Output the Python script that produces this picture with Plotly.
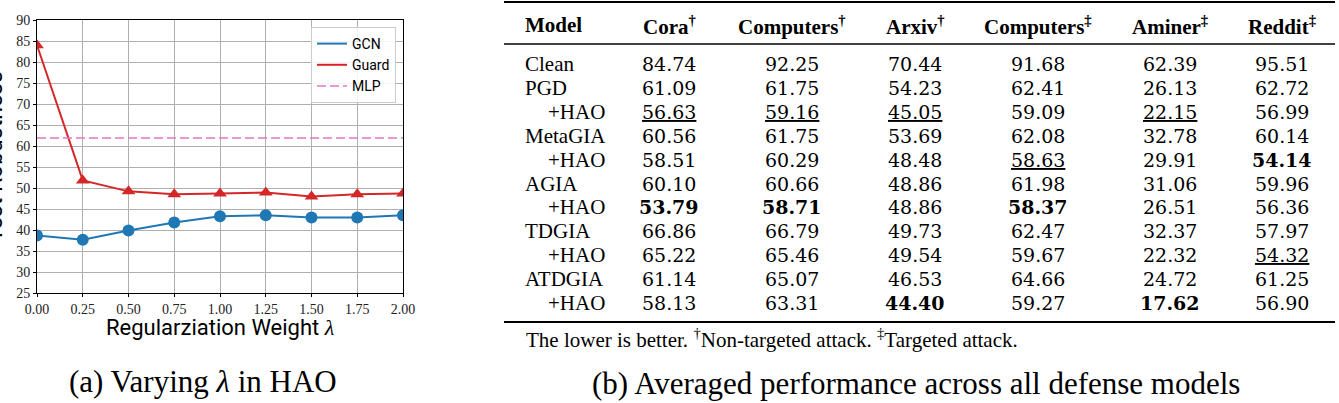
import plotly.graph_objects as go

W, H = 1339, 403

# ---------------- data: line chart ----------------
lambdas = [0.00, 0.25, 0.50, 0.75, 1.00, 1.25, 1.50, 1.75, 2.00]
gcn = [38.7, 37.7, 39.9, 41.8, 43.3, 43.5, 43.0, 43.0, 43.5]
guard = [84.0, 51.8, 49.2, 48.5, 48.7, 48.9, 48.0, 48.5, 48.7]
mlp_value = 61.9

x_ticks = [0.00, 0.25, 0.50, 0.75, 1.00, 1.25, 1.50, 1.75, 2.00]
y_ticks = list(range(25, 95, 5))

# ---------------- data: table ----------------
models = ["Clean", "PGD", "+HAO", "MetaGIA", "+HAO", "AGIA", "+HAO",
          "TDGIA", "+HAO", "ATDGIA", "+HAO"]
columns = ["Cora<sup>†</sup>", "Computers<sup>†</sup>", "Arxiv<sup>†</sup>",
           "Computers<sup>‡</sup>", "Aminer<sup>‡</sup>", "Reddit<sup>‡</sup>"]
cora = [84.74, 61.09, 56.63, 60.56, 58.51, 60.10, 53.79, 66.86, 65.22, 61.14, 58.13]
computers_nt = [92.25, 61.75, 59.16, 61.75, 60.29, 60.66, 58.71, 66.79, 65.46, 65.07, 63.31]
arxiv = [70.44, 54.23, 45.05, 53.69, 48.48, 48.86, 48.86, 49.73, 49.54, 46.53, 44.40]
computers_t = [91.68, 62.41, 59.09, 62.08, 58.63, 61.98, 58.37, 62.47, 59.67, 64.66, 59.27]
aminer = [62.39, 26.13, 22.15, 32.78, 29.91, 31.06, 26.51, 32.37, 22.32, 24.72, 17.62]
reddit = [95.51, 62.72, 56.99, 60.14, 54.14, 59.96, 56.36, 57.97, 54.32, 61.25, 56.90]
table_values = [cora, computers_nt, arxiv, computers_t, aminer, reddit]
bold_rows = [6, 6, 10, 6, 10, 4]        # best per column
underline_rows = [2, 2, 2, 4, 2, 8]     # second best per column

footnote = "The lower is better. <sup>†</sup>Non-targeted attack. <sup>‡</sup>Targeted attack."
caption_a = "(a) Varying <i>λ</i> in HAO"
caption_b = "(b) Averaged performance across all defense models"

# ---------------- layout constants (pixels) ----------------
PLOT_L, PLOT_R, PLOT_T, PLOT_B = 37, 403, 20, 293
COL_X = [669, 792, 915, 1038, 1170, 1282]
MODEL_X, INDENT_X = 523, 546
HEADER_Y = 25
ROW0_Y, ROW_DY = 64, 23.9
RULE_L, RULE_R = 504, 1335
TOP_RULE_Y, MID_RULE_Y, BOT_RULE_Y = 2, 44, 322

SERIF = "Liberation Serif"
NUMFONT = "DejaVu Serif"
SANS = "Roboto"


def px(x):
    return x / W


def py(y):
    return 1 - y / H


def note(x, y, text, size, family=SERIF, xanchor="center", **kw):
    d = dict(xref="paper", yref="paper", x=px(x), y=py(y), text=text, xanchor=xanchor,
             yanchor="middle", showarrow=False, font=dict(family=family, size=size, color="black"))
    d.update(kw)
    return d


fig = go.Figure()
fig.add_trace(go.Scatter(x=lambdas, y=gcn, name="GCN", mode="lines+markers", showlegend=False,
                         line=dict(color="#1f77b4", width=2),
                         marker=dict(symbol="circle", size=12, color="#1f77b4")))
fig.add_trace(go.Scatter(x=lambdas, y=guard, name="Guard", mode="lines+markers", showlegend=False,
                         line=dict(color="#d62728", width=2),
                         marker=dict(symbol="triangle-up", size=12, color="#d62728")))
fig.add_trace(go.Scatter(x=[x_ticks[0], x_ticks[-1]], y=[mlp_value, mlp_value], name="MLP",
                         mode="lines", showlegend=False,
                         line=dict(color="#e377c2", width=1.6, dash="9px,4px")))
# legend entries (lines only, like the reference)
for name, color, dash in [("GCN", "#1f77b4", "solid"), ("Guard", "#d62728", "solid"),
                          ("MLP", "#e377c2", "9px,4px")]:
    fig.add_trace(go.Scatter(x=[None], y=[None], name=name, mode="lines",
                             line=dict(color=color, width=2 if dash == "solid" else 1.6, dash=dash)))

annotations = []
shapes = []

# table header
annotations.append(note(MODEL_X, HEADER_Y, "<b>Model</b>", 21, xanchor="left"))
for cx, name in zip(COL_X, columns):
    annotations.append(note(cx, HEADER_Y, "<b>" + name + "</b>", 21))

# table body
for i, m in enumerate(models):
    ry = ROW0_Y + ROW_DY * i
    mx = INDENT_X if m.startswith("+") else MODEL_X
    annotations.append(note(mx, ry, m, 21, xanchor="left"))
    for j, col in enumerate(table_values):
        t = f"{col[i]:.2f}"
        if bold_rows[j] == i:
            t = "<b>" + t + "</b>"
        if underline_rows[j] == i:
            t = "<u>" + t + "</u>"
        annotations.append(note(COL_X[j], ry, t, 19, family=NUMFONT))

# rules
for yy, w in [(TOP_RULE_Y, 2.2), (MID_RULE_Y, 1.3), (BOT_RULE_Y, 2.2)]:
    shapes.append(dict(type="line", xref="paper", yref="paper", x0=px(RULE_L), x1=px(RULE_R),
                       y0=py(yy), y1=py(yy), line=dict(color="black", width=w)))

# footnote and captions
annotations.append(note(524, 338, footnote, 21, xanchor="left"))
annotations.append(note(203, 381, caption_a, 31))
annotations.append(note(916, 383, caption_b, 31))

# axis titles
annotations.append(note(220, 327, "Regularziation Weight <i><span style='font-family:Liberation Serif'>λ</span></i>",
                        22, family=SANS))
annotations.append(note(10, (PLOT_T + PLOT_B) / 2, "Test Robustness", 23, family=SANS,
                        xanchor="right", textangle=-90))

axis_common = dict(showgrid=True, gridcolor="#b0b0b0", gridwidth=1,
                   showline=True, linecolor="black", linewidth=1, mirror=True,
                   ticks="outside", ticklen=3, tickcolor="black", automargin=False,
                   tickfont=dict(family=SERIF, size=14, color="#222"), zeroline=False)

fig.update_layout(
    width=W, height=H, autosize=False,
    margin=dict(l=0, r=0, t=0, b=0, autoexpand=False),
    paper_bgcolor="white", plot_bgcolor="white",
    showlegend=True,
    legend=dict(x=px(396), y=py(27), xanchor="right", yanchor="top",
                bgcolor="rgba(255,255,255,0.85)", bordercolor="#cccccc", borderwidth=1,
                font=dict(family=SANS, size=14, color="black"), tracegroupgap=0,
                itemwidth=30),
    xaxis=dict(domain=[px(PLOT_L), px(PLOT_R)], range=[0, 2], tickvals=x_ticks,
               ticktext=[f"{v:.2f}" for v in x_ticks], **axis_common),
    yaxis=dict(domain=[py(PLOT_B), py(PLOT_T)], range=[25, 90], tickvals=y_ticks, **axis_common),
    annotations=annotations,
    shapes=shapes,
)

fig.write_html("out.html", config={"displayModeBar": False},
               post_script="document.body.style.margin='0';document.body.style.overflow='hidden';")
